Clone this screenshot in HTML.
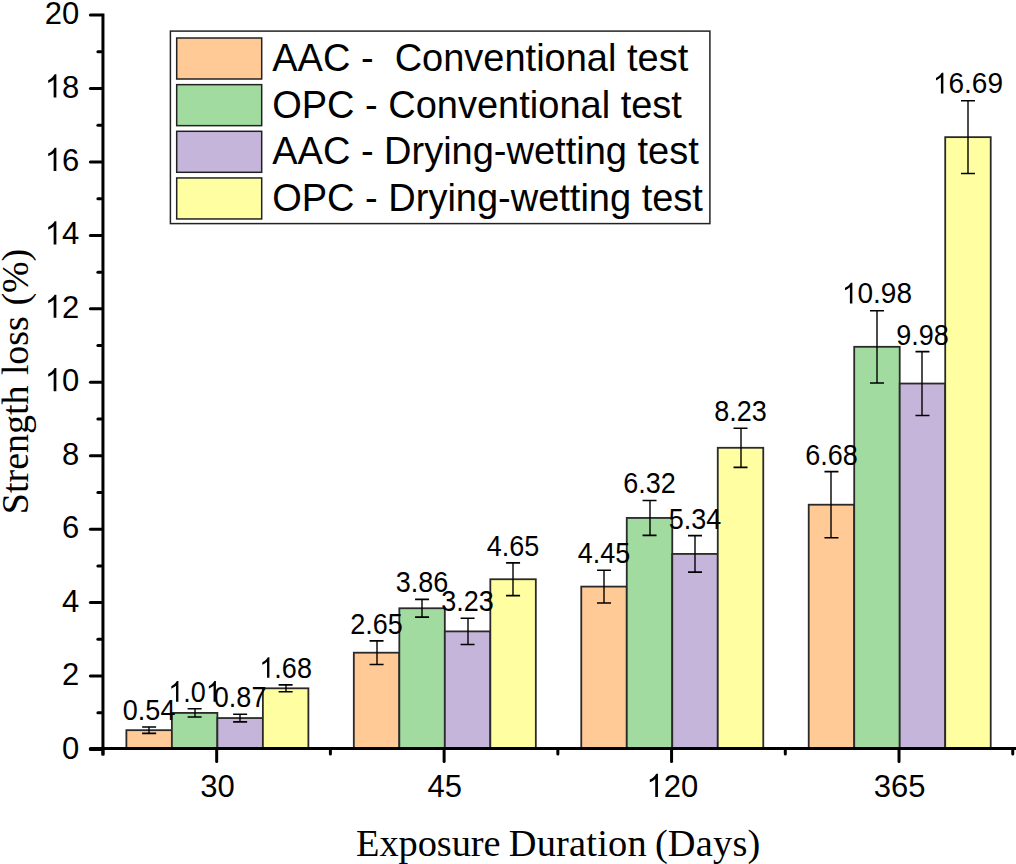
<!DOCTYPE html>
<html><head><meta charset="utf-8"><style>
html,body{margin:0;padding:0;background:#fff;}
body{width:1016px;height:864px;overflow:hidden;}
svg{display:block;}
text{font-family:"Liberation Sans",sans-serif;fill:#000;font-kerning:none;}
.serif{font-family:"Liberation Serif",serif;}
</style></head><body>
<svg width="1016" height="864" viewBox="0 0 1016 864">
<rect width="1016" height="864" fill="#fff"/>

<rect x="126.38" y="730.17" width="45.50" height="18.33" fill="#FFCA96" stroke="#2a2a2a" stroke-width="1.8"/>
<rect x="171.88" y="712.91" width="45.50" height="35.59" fill="#A1DBA0" stroke="#2a2a2a" stroke-width="1.8"/>
<rect x="217.38" y="718.05" width="45.50" height="30.45" fill="#C5B5DA" stroke="#2a2a2a" stroke-width="1.8"/>
<rect x="262.88" y="688.31" width="45.50" height="60.19" fill="#FFFFA2" stroke="#2a2a2a" stroke-width="1.8"/>
<rect x="353.82" y="652.69" width="45.50" height="95.81" fill="#FFCA96" stroke="#2a2a2a" stroke-width="1.8"/>
<rect x="399.32" y="608.26" width="45.50" height="140.24" fill="#A1DBA0" stroke="#2a2a2a" stroke-width="1.8"/>
<rect x="444.82" y="631.39" width="45.50" height="117.11" fill="#C5B5DA" stroke="#2a2a2a" stroke-width="1.8"/>
<rect x="490.32" y="579.25" width="45.50" height="169.25" fill="#FFFFA2" stroke="#2a2a2a" stroke-width="1.8"/>
<rect x="581.27" y="586.60" width="45.50" height="161.90" fill="#FFCA96" stroke="#2a2a2a" stroke-width="1.8"/>
<rect x="626.77" y="517.93" width="45.50" height="230.57" fill="#A1DBA0" stroke="#2a2a2a" stroke-width="1.8"/>
<rect x="672.27" y="553.92" width="45.50" height="194.58" fill="#C5B5DA" stroke="#2a2a2a" stroke-width="1.8"/>
<rect x="717.77" y="447.79" width="45.50" height="300.71" fill="#FFFFA2" stroke="#2a2a2a" stroke-width="1.8"/>
<rect x="808.72" y="504.71" width="45.50" height="243.79" fill="#FFCA96" stroke="#2a2a2a" stroke-width="1.8"/>
<rect x="854.22" y="346.81" width="45.50" height="401.69" fill="#A1DBA0" stroke="#2a2a2a" stroke-width="1.8"/>
<rect x="899.72" y="383.53" width="45.50" height="364.97" fill="#C5B5DA" stroke="#2a2a2a" stroke-width="1.8"/>
<rect x="945.22" y="137.14" width="45.50" height="611.36" fill="#FFFFA2" stroke="#2a2a2a" stroke-width="1.8"/>
<path d="M149 726.98V733.37" stroke="#000" stroke-width="1.4" fill="none"/>
<path d="M142.12 726.98H156.12M142.12 733.37H156.12" stroke="#000" stroke-width="1.6" fill="none"/>
<g transform="translate(149.12,719.88) scale(1,1.06)"><text x="-26.27" y="0" font-size="27">0.54</text></g>
<path d="M195 708.76V717.06" stroke="#000" stroke-width="1.4" fill="none"/>
<path d="M187.62 708.76H201.62M187.62 717.06H201.62" stroke="#000" stroke-width="1.6" fill="none"/>
<g transform="translate(194.62,701.66) scale(1,1.06)"><text x="-26.27" y="0" font-size="27"> .0 </text><path d="M763 0H583V1147Q518 1085 412.5 1023Q307 961 223 930V1104Q374 1175 487 1276Q600 1377 647 1472H763Z" transform="translate(-26.27,0) scale(0.01318,-0.01318)"/><path d="M763 0H583V1147Q518 1085 412.5 1023Q307 961 223 930V1104Q374 1175 487 1276Q600 1377 647 1472H763Z" transform="translate(11.26,0) scale(0.01318,-0.01318)"/></g>
<path d="M240 714.27V721.84" stroke="#000" stroke-width="1.4" fill="none"/>
<path d="M233.12 714.27H247.12M233.12 721.84H247.12" stroke="#000" stroke-width="1.6" fill="none"/>
<g transform="translate(240.12,707.17) scale(1,1.06)"><text x="-26.27" y="0" font-size="27">0.87</text></g>
<path d="M286 684.86V691.76" stroke="#000" stroke-width="1.4" fill="none"/>
<path d="M278.62 684.86H292.62M278.62 691.76H292.62" stroke="#000" stroke-width="1.6" fill="none"/>
<g transform="translate(285.62,677.76) scale(1,1.06)"><text x="-26.27" y="0" font-size="27"> .68</text><path d="M763 0H583V1147Q518 1085 412.5 1023Q307 961 223 930V1104Q374 1175 487 1276Q600 1377 647 1472H763Z" transform="translate(-26.27,0) scale(0.01318,-0.01318)"/></g>
<path d="M377 640.90V664.48" stroke="#000" stroke-width="1.4" fill="none"/>
<path d="M369.57 640.90H383.57M369.57 664.48H383.57" stroke="#000" stroke-width="1.6" fill="none"/>
<g transform="translate(376.57,633.80) scale(1,1.06)"><text x="-26.27" y="0" font-size="27">2.65</text></g>
<path d="M422 599.41V617.11" stroke="#000" stroke-width="1.4" fill="none"/>
<path d="M415.07 599.41H429.07M415.07 617.11H429.07" stroke="#000" stroke-width="1.6" fill="none"/>
<g transform="translate(422.07,592.31) scale(1,1.06)"><text x="-26.27" y="0" font-size="27">3.86</text></g>
<path d="M468 618.29V644.50" stroke="#000" stroke-width="1.4" fill="none"/>
<path d="M460.57 618.29H474.57M460.57 644.50H474.57" stroke="#000" stroke-width="1.6" fill="none"/>
<g transform="translate(467.57,611.19) scale(1,1.06)"><text x="-26.27" y="0" font-size="27">3.23</text></g>
<path d="M513 562.91V595.59" stroke="#000" stroke-width="1.4" fill="none"/>
<path d="M506.07 562.91H520.07M506.07 595.59H520.07" stroke="#000" stroke-width="1.6" fill="none"/>
<g transform="translate(513.07,555.81) scale(1,1.06)"><text x="-26.27" y="0" font-size="27">4.65</text></g>
<path d="M604 570.26V602.94" stroke="#000" stroke-width="1.4" fill="none"/>
<path d="M597.02 570.26H611.02M597.02 602.94H611.02" stroke="#000" stroke-width="1.6" fill="none"/>
<g transform="translate(604.02,563.16) scale(1,1.06)"><text x="-26.27" y="0" font-size="27">4.45</text></g>
<path d="M650 500.49V535.37" stroke="#000" stroke-width="1.4" fill="none"/>
<path d="M642.52 500.49H656.52M642.52 535.37H656.52" stroke="#000" stroke-width="1.6" fill="none"/>
<g transform="translate(649.52,493.39) scale(1,1.06)"><text x="-26.27" y="0" font-size="27">6.32</text></g>
<path d="M695 535.67V572.17" stroke="#000" stroke-width="1.4" fill="none"/>
<path d="M688.02 535.67H702.02M688.02 572.17H702.02" stroke="#000" stroke-width="1.6" fill="none"/>
<g transform="translate(695.02,528.57) scale(1,1.06)"><text x="-26.27" y="0" font-size="27">5.34</text></g>
<path d="M741 428.26V467.33" stroke="#000" stroke-width="1.4" fill="none"/>
<path d="M733.52 428.26H747.52M733.52 467.33H747.52" stroke="#000" stroke-width="1.6" fill="none"/>
<g transform="translate(740.52,421.16) scale(1,1.06)"><text x="-26.27" y="0" font-size="27">8.23</text></g>
<path d="M831 471.63V537.80" stroke="#000" stroke-width="1.4" fill="none"/>
<path d="M824.47 471.63H838.47M824.47 537.80H838.47" stroke="#000" stroke-width="1.6" fill="none"/>
<g transform="translate(831.47,464.53) scale(1,1.06)"><text x="-26.27" y="0" font-size="27">6.68</text></g>
<path d="M877 310.68V382.95" stroke="#000" stroke-width="1.4" fill="none"/>
<path d="M869.97 310.68H883.97M869.97 382.95H883.97" stroke="#000" stroke-width="1.6" fill="none"/>
<g transform="translate(876.97,303.38) scale(1,1.03)"><text x="-35.03" y="0" font-size="28"> 0.98</text><path d="M763 0H583V1147Q518 1085 412.5 1023Q307 961 223 930V1104Q374 1175 487 1276Q600 1377 647 1472H763Z" transform="translate(-35.03,0) scale(0.01367,-0.01367)"/></g>
<path d="M922 351.62V415.44" stroke="#000" stroke-width="1.4" fill="none"/>
<path d="M915.47 351.62H929.47M915.47 415.44H929.47" stroke="#000" stroke-width="1.6" fill="none"/>
<g transform="translate(922.47,344.52) scale(1,1.06)"><text x="-26.27" y="0" font-size="27">9.98</text></g>
<path d="M968 100.79V173.50" stroke="#000" stroke-width="1.4" fill="none"/>
<path d="M960.97 100.79H974.97M960.97 173.50H974.97" stroke="#000" stroke-width="1.6" fill="none"/>
<g transform="translate(967.97,93.49) scale(1,1.03)"><text x="-35.03" y="0" font-size="28"> 6.69</text><path d="M763 0H583V1147Q518 1085 412.5 1023Q307 961 223 930V1104Q374 1175 487 1276Q600 1377 647 1472H763Z" transform="translate(-35.03,0) scale(0.01367,-0.01367)"/></g>
<g stroke="#000" stroke-width="3" fill="none" stroke-linecap="round">
<path d="M90.4 748.5H1017"/>
<path d="M102.95 13.6V755.6" stroke-linecap="butt"/>
<path d="M90.4 749.50H101.5"/>
<path d="M90.4 676.06H101.5"/>
<path d="M90.4 602.62H101.5"/>
<path d="M90.4 529.18H101.5"/>
<path d="M90.4 455.74H101.5"/>
<path d="M90.4 382.30H101.5"/>
<path d="M90.4 308.86H101.5"/>
<path d="M90.4 235.42H101.5"/>
<path d="M90.4 161.98H101.5"/>
<path d="M90.4 88.54H101.5"/>
<path d="M90.4 15.10H101.5"/>
<path d="M97.9 712.78H101.5"/>
<path d="M97.9 639.34H101.5"/>
<path d="M97.9 565.90H101.5"/>
<path d="M97.9 492.46H101.5"/>
<path d="M97.9 419.02H101.5"/>
<path d="M97.9 345.58H101.5"/>
<path d="M97.9 272.14H101.5"/>
<path d="M97.9 198.70H101.5"/>
<path d="M97.9 125.26H101.5"/>
<path d="M97.9 51.82H101.5"/>
<path d="M216.68 749.5V761.5"/>
<path d="M444.12 749.5V761.5"/>
<path d="M671.57 749.5V761.5"/>
<path d="M899.02 749.5V761.5"/>
<path d="M102.95 749.5V754.1"/>
<path d="M330.40 749.5V754.1"/>
<path d="M557.85 749.5V754.1"/>
<path d="M785.30 749.5V754.1"/>
<path d="M1012.75 749.5V754.1"/>
</g>
<g transform="translate(79.30,758.50) scale(1,1.04)"><text x="-17.24" y="0" font-size="31">0</text></g>
<g transform="translate(79.30,685.06) scale(1,1.04)"><text x="-17.24" y="0" font-size="31">2</text></g>
<g transform="translate(79.30,611.62) scale(1,1.04)"><text x="-17.24" y="0" font-size="31">4</text></g>
<g transform="translate(79.30,538.18) scale(1,1.04)"><text x="-17.24" y="0" font-size="31">6</text></g>
<g transform="translate(79.30,464.74) scale(1,1.04)"><text x="-17.24" y="0" font-size="31">8</text></g>
<g transform="translate(79.30,391.30) scale(1,1.04)"><text x="-34.48" y="0" font-size="31"> 0</text><path d="M763 0H583V1147Q518 1085 412.5 1023Q307 961 223 930V1104Q374 1175 487 1276Q600 1377 647 1472H763Z" transform="translate(-34.48,0) scale(0.01514,-0.01514)"/></g>
<g transform="translate(79.30,317.86) scale(1,1.04)"><text x="-34.48" y="0" font-size="31"> 2</text><path d="M763 0H583V1147Q518 1085 412.5 1023Q307 961 223 930V1104Q374 1175 487 1276Q600 1377 647 1472H763Z" transform="translate(-34.48,0) scale(0.01514,-0.01514)"/></g>
<g transform="translate(79.30,244.42) scale(1,1.04)"><text x="-34.48" y="0" font-size="31"> 4</text><path d="M763 0H583V1147Q518 1085 412.5 1023Q307 961 223 930V1104Q374 1175 487 1276Q600 1377 647 1472H763Z" transform="translate(-34.48,0) scale(0.01514,-0.01514)"/></g>
<g transform="translate(79.30,170.98) scale(1,1.04)"><text x="-34.48" y="0" font-size="31"> 6</text><path d="M763 0H583V1147Q518 1085 412.5 1023Q307 961 223 930V1104Q374 1175 487 1276Q600 1377 647 1472H763Z" transform="translate(-34.48,0) scale(0.01514,-0.01514)"/></g>
<g transform="translate(79.30,97.54) scale(1,1.04)"><text x="-34.48" y="0" font-size="31"> 8</text><path d="M763 0H583V1147Q518 1085 412.5 1023Q307 961 223 930V1104Q374 1175 487 1276Q600 1377 647 1472H763Z" transform="translate(-34.48,0) scale(0.01514,-0.01514)"/></g>
<g transform="translate(79.30,24.10) scale(1,1.04)"><text x="-34.48" y="0" font-size="31">20</text></g>
<g transform="translate(217.38,797.00) scale(1,1.04)"><text x="-17.24" y="0" font-size="31">30</text></g>
<g transform="translate(444.82,797.00) scale(1,1.04)"><text x="-17.24" y="0" font-size="31">45</text></g>
<g transform="translate(672.27,797.00) scale(1,1.04)"><text x="-25.86" y="0" font-size="31"> 20</text><path d="M763 0H583V1147Q518 1085 412.5 1023Q307 961 223 930V1104Q374 1175 487 1276Q600 1377 647 1472H763Z" transform="translate(-25.86,0) scale(0.01514,-0.01514)"/></g>
<g transform="translate(899.72,797.00) scale(1,1.04)"><text x="-25.86" y="0" font-size="31">365</text></g>
<rect x="170.4" y="31.1" width="539.5" height="192.5" fill="#fff" stroke="#222" stroke-width="1.5"/>
<rect x="176.7" y="38.00" width="85" height="41" fill="#FFCA96" stroke="#222" stroke-width="1.5"/>
<text transform="translate(272.2,71.00) scale(1,1.02)" x="0" y="0" font-size="38">AAC -  Conventional test</text>
<rect x="176.7" y="84.65" width="85" height="41" fill="#A1DBA0" stroke="#222" stroke-width="1.5"/>
<text transform="translate(272.2,117.65) scale(1,1.02)" x="0" y="0" font-size="38">OPC - Conventional test</text>
<rect x="176.7" y="131.30" width="85" height="41" fill="#C5B5DA" stroke="#222" stroke-width="1.5"/>
<text transform="translate(272.2,164.30) scale(1,1.02)" x="0" y="0" font-size="38">AAC - Drying-wetting test</text>
<rect x="176.7" y="177.95" width="85" height="41" fill="#FFFFA2" stroke="#222" stroke-width="1.5"/>
<text transform="translate(272.2,210.95) scale(1,1.02)" x="0" y="0" font-size="38">OPC - Drying-wetting test</text>
<text class="serif" x="356.08" y="856.2" font-size="38.4" textLength="144.44" lengthAdjust="spacing">Exposure</text>
<text class="serif" x="508.68" y="856.2" font-size="38.4" textLength="138.05" lengthAdjust="spacing">Duration</text>
<text class="serif" x="654.88" y="856.2" font-size="38.4" textLength="105.5" lengthAdjust="spacing">(Days)</text>
<text class="serif" transform="translate(28,514.2) rotate(-90)" x="0" y="0" font-size="38">Strength</text>
<text class="serif" transform="translate(28,375.05) rotate(-90)" x="0" y="0" font-size="38" textLength="58.74" lengthAdjust="spacing">loss</text>
<text class="serif" transform="translate(28,305.5) rotate(-90)" x="0" y="0" font-size="38" textLength="56.66" lengthAdjust="spacing">(%)</text>
</svg></body></html>
